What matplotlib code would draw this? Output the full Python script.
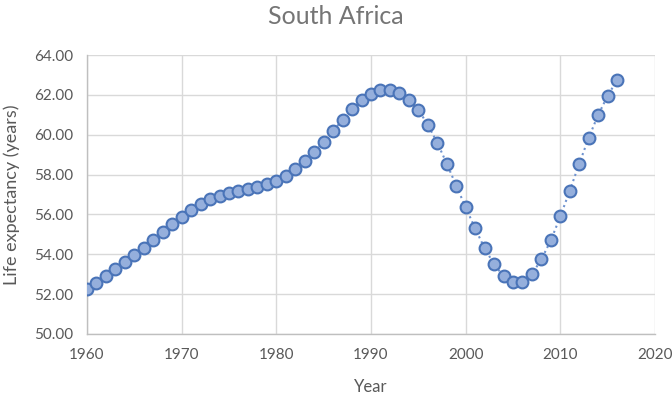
import matplotlib.pyplot as plt

# -------------------------------
# Data
# -------------------------------
years = list(range(1960, 2017))
life_exp = [52.25, 52.55, 52.9, 53.25, 53.6, 53.95, 54.3, 54.7, 55.1, 55.5,
            55.85, 56.2, 56.5, 56.75, 56.9, 57.1, 57.2, 57.3, 57.4, 57.55,
            57.7, 57.95, 58.3, 58.7, 59.15, 59.65, 60.2, 60.75, 61.3, 61.75,
            62.05, 62.25, 62.25, 62.1, 61.75, 61.25, 60.5, 59.6, 58.55, 57.45,
            56.35, 55.3, 54.3, 53.5, 52.9, 52.6, 52.6, 53.0, 53.75, 54.7,
            55.9, 57.2, 58.55, 59.85, 61.0, 61.95, 62.75]
x_ticks = [1960, 1970, 1980, 1990, 2000, 2010, 2020]
y_ticks = [50, 52, 54, 56, 58, 60, 62, 64]

plt.rcParams['font.family'] = ['Lato', 'DejaVu Sans']

# -------------------------------
# Plot
# -------------------------------
fig = plt.figure(figsize=(6.72, 3.94), dpi=100)
ax = fig.add_axes([0.1295, 0.1523, 0.8452, 0.7081])

ax.plot(years, life_exp, linestyle=':', color='#6f93cf', linewidth=1.5,
        marker='o', markersize=8.5, markerfacecolor='#95afdc',
        markeredgecolor='#4a74b8', markeredgewidth=1.5, zorder=3)

ax.set_xlim(1960, 2020)
ax.set_ylim(50, 64)
ax.set_xticks(x_ticks)
ax.set_yticks(y_ticks)
ax.set_yticklabels([f"{v:.2f}" for v in y_ticks])
ax.grid(True, color='#d9d9d9', linewidth=1)
ax.set_axisbelow(True)
for s in ['top', 'right']:
    ax.spines[s].set_visible(False)
for s in ['left', 'bottom']:
    ax.spines[s].set_color('#bfbfbf')
    ax.spines[s].set_linewidth(1)
ax.tick_params(length=0, colors='#595959', labelsize=11, pad=10)

ax.set_xlabel("Year", color='#595959', fontsize=12, labelpad=12)
ax.set_ylabel("Life expectancy (years)", color='#595959', fontsize=13, labelpad=10)
fig.text(0.5, 1 - 16 / 394, "South Africa", color='#757575', fontsize=18,
         ha='center', va='center')

fig.savefig("out.png", dpi=100)
